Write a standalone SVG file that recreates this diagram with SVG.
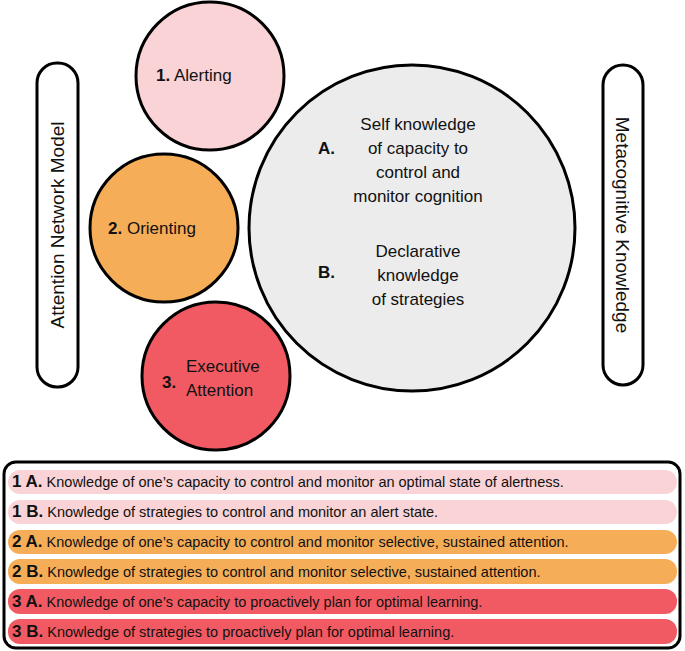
<svg xmlns="http://www.w3.org/2000/svg" width="685" height="651" viewBox="0 0 685 651">
<style>
text{font-family:"Liberation Sans",Arial,sans-serif;fill:#111}
.c{stroke:#000;stroke-width:3}
.b{font-weight:bold}
.t{font-size:17px}
.r{font-size:14.5px}
.row{stroke:none}
</style>
<rect width="685" height="651" fill="#fff"/>
<g id="left-label"><rect x="37" y="63" width="41" height="324" rx="20" fill="#fff" class="c"/>
<text class="t" font-size="19" transform="translate(64,225) rotate(-90)" text-anchor="middle" style="font-size:19px">Attention Network Model</text></g>
<g id="right-label"><rect x="603" y="65" width="40" height="320" rx="20" fill="#fff" class="c"/>
<text transform="translate(616,225) rotate(90)" text-anchor="middle" style="font-size:19px">Metacognitive Knowledge</text></g>
<g id="alerting"><circle cx="210" cy="76" r="74" fill="#f9d3d5" class="c"/>
<text class="t" x="156" y="81"><tspan class="b">1.</tspan> Alerting</text></g>
<g id="orienting"><circle cx="164" cy="228" r="74" fill="#f6ad58" class="c"/>
<text class="t" x="108" y="234"><tspan class="b">2.</tspan> Orienting</text></g>
<g id="executive"><circle cx="216" cy="376" r="74" fill="#f15a62" class="c"/>
<text class="t b" x="162" y="388">3.</text>
<text class="t" x="186" y="372">Executive</text><text class="t" x="186" y="396">Attention</text></g>
<g id="metacog"><circle cx="412" cy="228" r="163" fill="#ececec" class="c"/>
<text class="t b" x="318" y="154">A.</text>
<text class="t" text-anchor="middle" x="418" y="130">Self knowledge</text>
<text class="t" text-anchor="middle" x="418" y="154">of capacity to</text>
<text class="t" text-anchor="middle" x="418" y="178">control and</text>
<text class="t" text-anchor="middle" x="418" y="202">monitor cognition</text>
<text class="t b" x="318" y="278">B.</text>
<text class="t" text-anchor="middle" x="418" y="257">Declarative</text>
<text class="t" text-anchor="middle" x="418" y="281">knowledge</text>
<text class="t" text-anchor="middle" x="418" y="305">of strategies</text></g>
<g id="legend"><rect x="4" y="462" width="676" height="186" rx="12" fill="#fff" class="c"/>
<rect class="row" x="8" y="470" width="669" height="24" rx="12" fill="#f9d3d5"/>
<rect class="row" x="8" y="500" width="669" height="24" rx="12" fill="#f9d3d5"/>
<rect class="row" x="8" y="530" width="669" height="24" rx="12" fill="#f6ad58"/>
<rect class="row" x="8" y="559" width="669" height="25" rx="12" fill="#f6ad58"/>
<rect class="row" x="8" y="589" width="669" height="25" rx="12" fill="#f15a62"/>
<rect class="row" x="8" y="619" width="669" height="25" rx="12" fill="#f15a62"/>
<text class="r" x="12" y="487"><tspan class="b" style="font-size:17px">1 A.</tspan> Knowledge of one’s capacity to control and monitor an optimal state of alertness.</text>
<text class="r" x="12" y="517"><tspan class="b" style="font-size:17px">1 B.</tspan> Knowledge of strategies to control and monitor an alert state.</text>
<text class="r" x="12" y="547"><tspan class="b" style="font-size:17px">2 A.</tspan> Knowledge of one’s capacity to control and monitor selective, sustained attention.</text>
<text class="r" x="12" y="577"><tspan class="b" style="font-size:17px">2 B.</tspan> Knowledge of strategies to control and monitor selective, sustained attention.</text>
<text class="r" x="12" y="607"><tspan class="b" style="font-size:17px">3 A.</tspan> Knowledge of one’s capacity to proactively plan for optimal learning.</text>
<text class="r" x="12" y="637"><tspan class="b" style="font-size:17px">3 B.</tspan> Knowledge of strategies to proactively plan for optimal learning.</text></g>
</svg>
